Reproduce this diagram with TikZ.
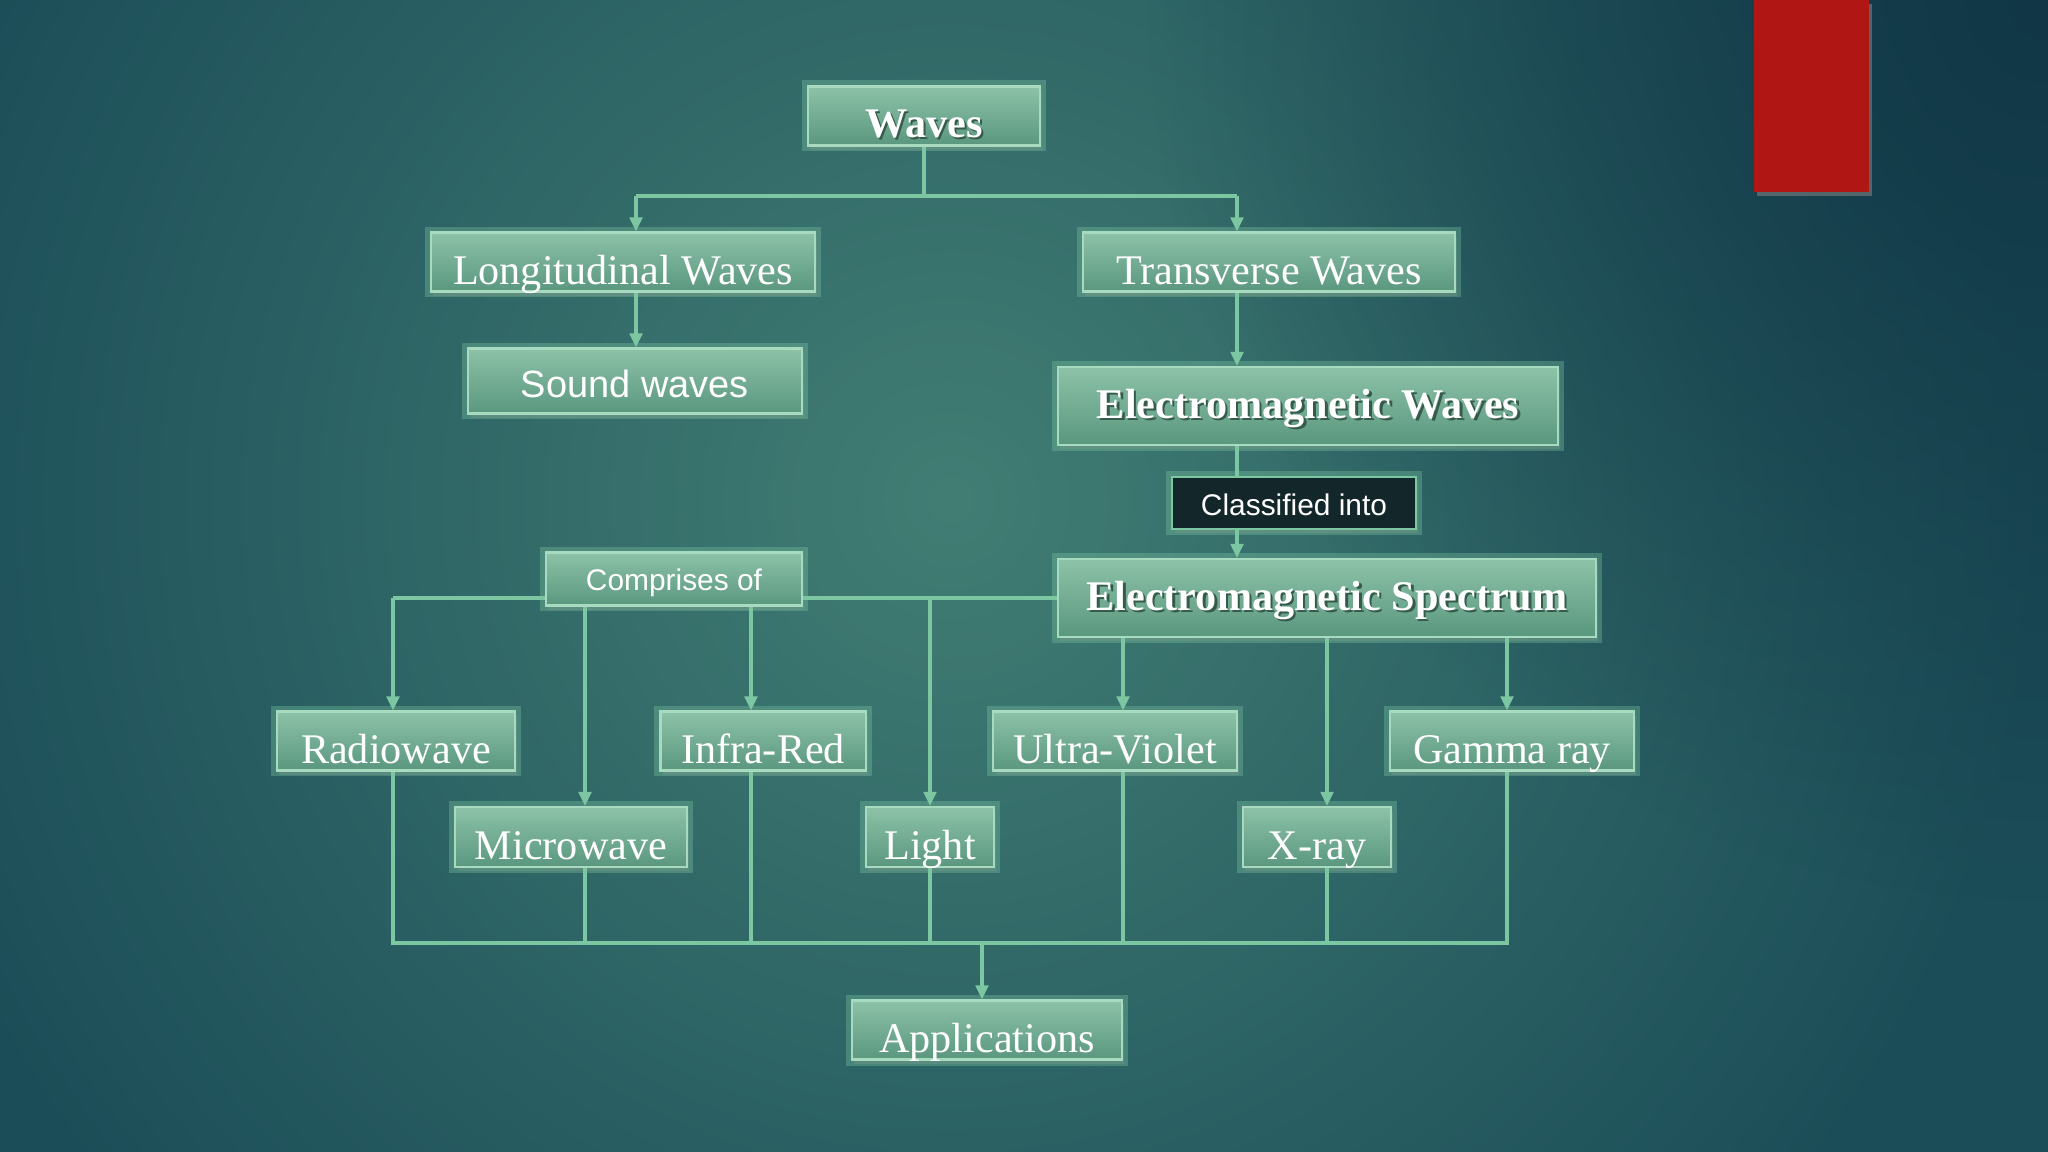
\documentclass[tikz,border=0pt]{standalone}
\usepackage{fontspec}
\setmainfont{Liberation Serif}
\setsansfont{Liberation Sans}
\usetikzlibrary{arrows.meta,shadows,fadings}
\definecolor{bgdark}{HTML}{1B4D58}
\definecolor{bglight}{HTML}{427E74}
\definecolor{bgcorner}{HTML}{113746}
\definecolor{boxtop}{HTML}{8CC2A8}
\definecolor{boxbot}{HTML}{5A977F}
\definecolor{boxline}{HTML}{A8DAC0}
\definecolor{linkcol}{HTML}{7CC6A2}
\definecolor{darkbox}{HTML}{13262A}
\definecolor{redbar}{HTML}{B01714}
\tikzfading[name=softspot, inner color=transparent!0, outer color=transparent!100]
\newcommand\shtext[1]{\leavevmode\rlap{\hspace{0.7pt}\raisebox{-0.7pt}{\color{black!40!boxbot}#1}}#1}

\begin{document}
\begin{tikzpicture}[x=0.01cm,y=-0.01cm,
    box/.style={draw=boxline, line width=0.6pt, top color=boxtop, bottom color=boxbot,
      text=white, inner sep=0pt, font=\fontsize{12}{14}\selectfont,
      text height=13pt, text depth=0pt,
      drop shadow={opacity=0.35, shadow xshift=0.6pt, shadow yshift=-1.2pt},
      preaction={draw=linkcol, line width=3.4pt, opacity=0.35}},
    title/.style={box, font=\bfseries\fontsize{12}{14}\selectfont, text height=9.7pt, text depth=2.6pt},
    sbox/.style={box, font=\sffamily\fontsize{8.5}{10}\selectfont, text height=6.8pt, text depth=0pt},
    link/.style={draw=linkcol, line width=0.9pt},
    arr/.style={link, -{Triangle[length=4pt, width=3.6pt]}}]
    \useasboundingbox (0,0) rectangle (2048,1152);
    \begin{scope}
      \clip (0,0) rectangle (2048,1152);
      \fill[bgdark] (0,0) rectangle (2048,1152);
      \fill[bglight, path fading=softspot] (950,500) circle (1100);
      \fill[bgcorner, path fading=softspot] (2048,0) circle (900);
    \end{scope}
    \fill[redbar, drop shadow={opacity=0.6, shadow xshift=0.8pt, shadow yshift=-1.2pt}] (1754,0) rectangle (1869,192);

    \node[title, text height=12.1pt, text depth=0pt, minimum width=2.32cm, minimum height=0.59cm] (waves) at (924,116) {\shtext{Waves}};
    \node[box, minimum width=3.84cm, minimum height=0.59cm] (lng) at (623,262) {Longitudinal Waves};
    \node[box, minimum width=3.72cm, minimum height=0.59cm] (trv) at (1269,262) {Transverse Waves};
    \node[box, font=\sffamily\fontsize{10.8}{13}\selectfont, text height=9.2pt, minimum width=3.33cm, minimum height=0.65cm] (snd) at (635,381) {Sound waves};
    \node[title, minimum width=5.00cm, minimum height=0.78cm] (emw) at (1308,406) {\shtext{Electromagnetic Waves}};
    \node[sbox, top color=darkbox, bottom color=darkbox, draw=linkcol, text height=7pt, minimum width=2.43cm, minimum height=0.52cm] (cls) at (1294,503) {Classified into};
    \node[sbox, minimum width=2.56cm, minimum height=0.53cm] (cmp) at (674,579) {Comprises of};
    \node[title, minimum width=5.38cm, minimum height=0.78cm] (ems) at (1327,598) {\shtext{Electromagnetic Spectrum}};
    \node[box, minimum width=2.38cm, minimum height=0.59cm] (rad) at (396,741) {Radiowave};
    \node[box, minimum width=2.05cm, minimum height=0.59cm] (inf) at (763,741) {Infra-Red};
    \node[box, minimum width=2.43cm, minimum height=0.59cm] (uv) at (1115,741) {Ultra-Violet};
    \node[box, minimum width=2.44cm, minimum height=0.59cm] (gam) at (1512,741) {Gamma ray};
    \node[box, minimum width=2.31cm, minimum height=0.60cm] (mic) at (571,837) {Microwave};
    \node[box, minimum width=1.28cm, minimum height=0.60cm] (lig) at (930,837) {Light};
    \node[box, minimum width=1.48cm, minimum height=0.60cm] (xr) at (1317,837) {X-ray};
    \node[box, minimum width=2.69cm, minimum height=0.59cm] (app) at (987,1030) {Applications};

    \coordinate (tl) at (636,196);
    \coordinate (tr) at (1237,196);
    \coordinate (hl) at (393,598);
    \coordinate (hr) at (930,598);
    \coordinate (bl) at (393,943);
    \coordinate (br) at (1507,943);
    \coordinate (ba) at (982,943);

    \draw[link] (waves.south) -- (waves.south |- tl);
    \draw[link] (tl) -- (tr);
    \draw[arr] (tl) -- (tl |- lng.north);
    \draw[arr] (tr) -- (tr |- trv.north);
    \draw[arr] (tl |- lng.south) -- (tl |- snd.north);
    \draw[arr] (tr |- trv.south) -- (tr |- emw.north);
    \draw[link] (tr |- emw.south) -- (tr |- cls.north);
    \draw[arr] (tr |- cls.south) -- (tr |- ems.north);

    \draw[link] (hl) -- (hl -| cmp.west);
    \draw[link] (hl -| cmp.east) -- (hl -| ems.west);
    \draw[arr] (hl) -- (hl |- rad.north);
    \draw[arr] (585,0 |- cmp.south) -- (585,0 |- mic.north);
    \draw[arr] (751,0 |- cmp.south) -- (751,0 |- inf.north);
    \draw[arr] (hr) -- (hr |- lig.north);
    \draw[arr] (1123,0 |- ems.south) -- (1123,0 |- uv.north);
    \draw[arr] (1327,0 |- ems.south) -- (1327,0 |- xr.north);
    \draw[arr] (1507,0 |- ems.south) -- (1507,0 |- gam.north);

    \draw[link] (bl |- rad.south) -- (bl) -- (br) -- (br |- gam.south);
    \draw[link] (585,0 |- mic.south) -- (585,943);
    \draw[link] (751,0 |- inf.south) -- (751,943);
    \draw[link] (930,0 |- lig.south) -- (930,943);
    \draw[link] (1123,0 |- uv.south) -- (1123,943);
    \draw[link] (1327,0 |- xr.south) -- (1327,943);
    \draw[arr] (ba) -- (ba |- app.north);
\end{tikzpicture}
\end{document}
